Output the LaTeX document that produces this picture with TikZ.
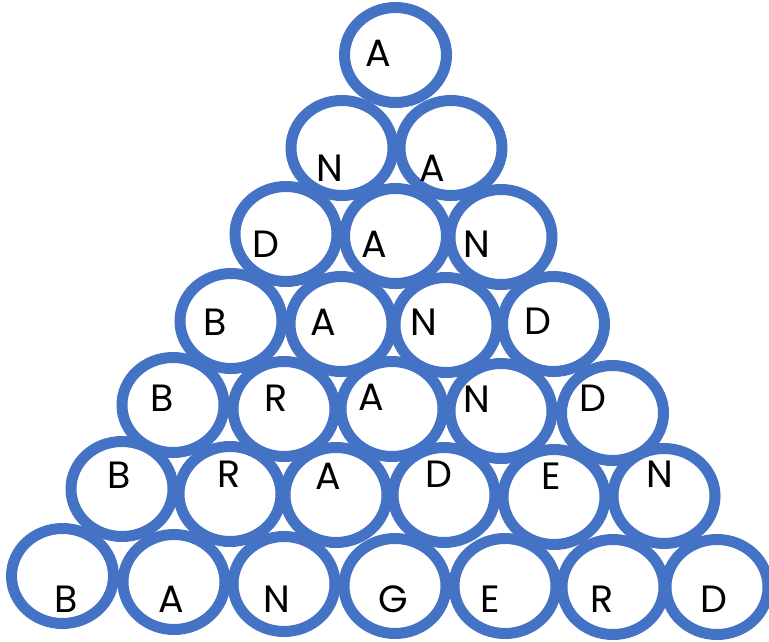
\documentclass[tikz,border=0pt]{standalone}
\usepackage{fontspec}
\setmainfont{Poppins}
\usetikzlibrary{shapes.geometric}
\definecolor{ringblue}{HTML}{4472C4}
\tikzset{
  ring/.style={ellipse, draw=ringblue, line width=11pt, inner sep=0pt,
    minimum width=102pt, minimum height=95pt},
  letter/.style={inner sep=0pt, font=\fontsize{38}{38}\selectfont, text=black}
}
\begin{document}
\begin{tikzpicture}[x=1pt,y=-1pt]
\useasboundingbox (0,0) rectangle (769,641);
% row 1
\node[ring] (c11) at (395.5,55) {};
% row 2
\node[ring] (c21) at (342,148) {};
\node[ring] (c22) at (451,148) {};
% row 3
\node[ring] (c31) at (286,234) {};
\node[ring] (c32) at (395.5,236) {};
\node[ring] (c33) at (501,237) {};
% row 4
\node[ring] (c41) at (231,321) {};
\node[ring] (c42) at (341,324) {};
\node[ring] (c43) at (446,325) {};
\node[ring] (c44) at (553.5,324) {};
% row 5
\node[ring] (c51) at (173,405) {};
\node[ring] (c52) at (284,409) {};
\node[ring] (c53) at (392,409) {};
\node[ring] (c54) at (501,411) {};
\node[ring] (c55) at (612.5,413) {};
% row 6
\node[ring] (c61) at (122,489) {};
\node[ring] (c62) at (230,494) {};
\node[ring] (c63) at (336,495) {};
\node[ring] (c64) at (444,495) {};
\node[ring] (c65) at (554,497) {};
\node[ring] (c66) at (664,496) {};
% row 7
\node[ring] (c71) at (62.5,576) {};
\node[ring] (c72) at (174,582) {};
\node[ring] (c73) at (284,584) {};
\node[ring] (c74) at (395,586) {};
\node[ring] (c75) at (505,586) {};
\node[ring] (c76) at (613,587) {};
\node[ring] (c77) at (717,587) {};
% letters
\node[letter] (l11) at (378,53) {A};
\node[letter] (l21) at (330,168) {N};
\node[letter] (l22) at (432,168) {A};
\node[letter] (l31) at (266,244) {D};
\node[letter] (l32) at (374,244) {A};
\node[letter] (l33) at (477,244) {N};
\node[letter] (l41) at (215,322) {B};
\node[letter] (l42) at (323,322) {A};
\node[letter] (l43) at (424,322) {N};
\node[letter] (l44) at (538,321) {D};
\node[letter] (l51) at (162,398) {B};
\node[letter] (l52) at (276,398) {R};
\node[letter] (l53) at (371,397) {A};
\node[letter] (l54) at (477,399) {N};
\node[letter] (l55) at (593,398) {D};
\node[letter] (l61) at (119,475) {B};
\node[letter] (l62) at (229,474) {R};
\node[letter] (l63) at (328,476) {A};
\node[letter] (l64) at (439,474) {D};
\node[letter] (l65) at (551,476) {E};
\node[letter] (l66) at (660,474) {N};
\node[letter] (l71) at (66,599) {B};
\node[letter] (l72) at (171,599) {A};
\node[letter] (l73) at (277,599) {N};
\node[letter] (l74) at (393,599) {G};
\node[letter] (l75) at (490,599) {E};
\node[letter] (l76) at (602,599) {R};
\node[letter] (l77) at (714,599) {D};
\end{tikzpicture}
\end{document}
